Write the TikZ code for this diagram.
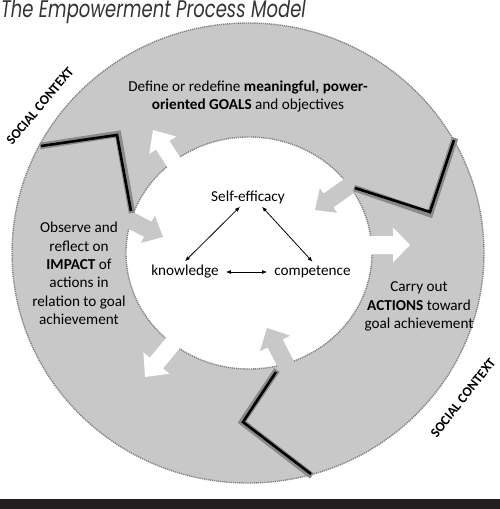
\documentclass[tikz,border=0pt]{standalone}
\usepackage{fontspec}
\setmainfont{Carlito}
\newfontfamily\titlefont{Poppins}
\usetikzlibrary{calc,arrows.meta}
\definecolor{ringgray}{HTML}{C8C8C8}
\definecolor{edgegray}{HTML}{7F7F7F}
\definecolor{divgray}{HTML}{8A8A8A}
\definecolor{barblack}{HTML}{231F20}
\tikzset{
  ringedge/.style={draw=edgegray,line width=1.4pt,dash pattern=on 1.2pt off 0.9pt},
  divshadow/.style={draw=divgray,line width=6.5pt,line join=miter},
  divline/.style={draw=black,line width=2.6pt,line join=miter},
  ringtext/.style={align=center,font=\fontsize{15.2}{18.3}\selectfont,inner sep=0pt},
  innertext/.style={font=\fontsize{15.2}{17}\selectfont,inner sep=1pt},
  ctxtext/.style={font=\fontsize{13.6}{15}\selectfont\bfseries,inner sep=0pt},
  dbl/.style={{Latex[length=5pt,width=4pt]}-{Latex[length=5pt,width=4pt]},line width=0.8pt},
  whitearrow/.style={fill=white},
  grayarrow/.style={fill=ringgray}
}
% #1 style, #2 base, #3 tip, #4 head length, #5 head half width, #6 shaft half width
\newcommand\ringarrow[6]{%
  \path ($#3!#4!#2$) coordinate (hb);
  \fill[#1] ($#2!#6!90:#3$) -- ($(hb)!#6!90:#3$) -- ($(hb)!#5!90:#3$) -- #3
    -- ($(hb)!#5!-90:#3$) -- ($(hb)!#6!-90:#3$) -- ($#2!#6!-90:#3$) -- cycle;}
\begin{document}
\begin{tikzpicture}[x=1pt,y=-1pt]
\useasboundingbox (0,0) rectangle (500,509);
% title (top partly cut off, as in the reference)
\begin{scope}
\clip (0,0) rectangle (500,30);
\node[anchor=base west,inner sep=0pt,text=black!80,font=\titlefont\itshape\fontsize{24}{25}\selectfont] (title) at (1,17) {\scalebox{0.75}[1]{The Empowerment Process Model}};
\end{scope}
% ring
\fill[ringgray,even odd rule] (248,253) ellipse [x radius=236, y radius=230] (249,253) ellipse [x radius=123, y radius=116];
\draw[ringedge] (248,253) ellipse [x radius=236, y radius=230];
\draw[ringedge] (249,253) ellipse [x radius=123, y radius=116];
% arrows cut into / out of the ring
\ringarrow{whitearrow}{(180,172)}{(153,130)}{18pt}{16pt}{8pt}
\ringarrow{whitearrow}{(360,245)}{(410,245)}{17pt}{17.5pt}{9pt}
\ringarrow{whitearrow}{(177,338)}{(145,377)}{18pt}{16.8pt}{8.5pt}
\ringarrow{grayarrow}{(118,214)}{(163,237)}{17pt}{15.3pt}{8.5pt}
\ringarrow{grayarrow}{(356,181)}{(315,210)}{16.5pt}{15pt}{8.5pt}
\ringarrow{grayarrow}{(290,372)}{(267,328)}{17.4pt}{17pt}{8.5pt}
% dividers
\draw[divshadow] (40,146) -- (118,134) -- (132,213);
\draw[divline] (41,146) -- (117,135) -- (131,211);
\draw[divshadow] (455,138) -- (430,214) -- (354,188);
\draw[divline] (454,140) -- (430,212) -- (355,188);
\draw[divshadow] (277,370) -- (242,422) -- (312,476);
\draw[divline] (276,372) -- (243,422) -- (311,474);
% ring texts
\node[ringtext] (goals) at (248,96.5) {Define or redefine \textbf{meaningful, power-}\\\textbf{oriented GOALS} and objectives};
\node[ringtext] (impact) at (79,273.5) {Observe and\\reflect on\\\textbf{IMPACT} of\\actions in\\relation to goal\\achievement};
\node[ringtext] (actions) at (419,306.5) {Carry out\\\textbf{ACTIONS} toward\\goal achievement};
% inner triangle
\node[innertext] (self) at (248,197) {Self-efficacy};
\node[innertext] (know) at (185,272) {knowledge};
\node[innertext] (comp) at (312.5,272) {competence};
\draw[dbl] ([xshift=-8pt,yshift=-2pt]self.south) -- ([yshift=3pt]know.north);
\draw[dbl] ([xshift=14pt,yshift=-2pt]self.south) -- ([yshift=3pt]comp.north);
\draw[dbl] ([xshift=6pt]know.east) -- ([xshift=-6pt]comp.west);
% social context
\node[ctxtext,rotate=50] (ctx1) at (40,106) {SOCIAL CONTEXT};
\node[ctxtext,rotate=52] (ctx2) at (463,398) {SOCIAL CONTEXT};
% bottom bar
\fill[barblack] (0,499) rectangle (500,509);
\end{tikzpicture}
\end{document}
